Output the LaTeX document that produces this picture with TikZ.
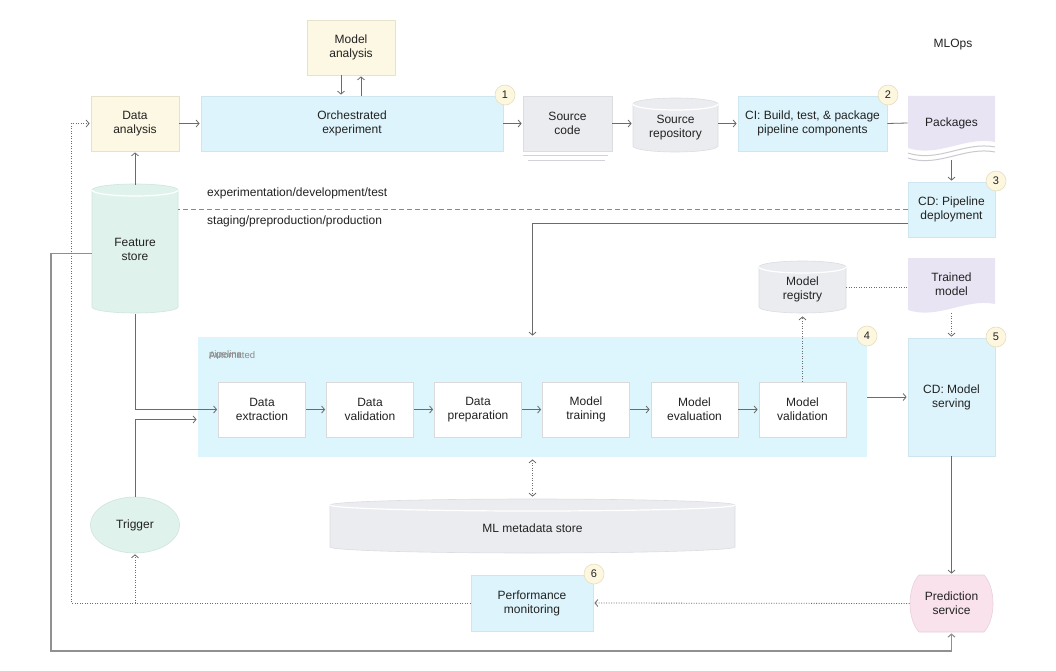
\documentclass[tikz,border=0pt]{standalone}
\usepackage{fontspec}
\setmainfont{Liberation Sans}
\usetikzlibrary{arrows.meta,shapes.geometric,calc}
\definecolor{txt}{HTML}{222222}
\definecolor{lc}{HTML}{6B6B6B}
\definecolor{yfill}{HTML}{FCF8E3}
\definecolor{yedge}{HTML}{E6E2CB}
\definecolor{bfill}{HTML}{DDF4FC}
\definecolor{bedge}{HTML}{CDE6F0}
\definecolor{gfill}{HTML}{EBECEF}
\definecolor{gedge}{HTML}{DCDDE1}
\definecolor{gline}{HTML}{D2D3D8}
\definecolor{pfill}{HTML}{E8E4F4}
\definecolor{mfill}{HTML}{DFF2EC}
\definecolor{medge}{HTML}{CFE5DD}
\definecolor{pkfill}{HTML}{F9E2EC}
\definecolor{pkedge}{HTML}{EAD0DC}
\definecolor{plfill}{HTML}{DDF5FD}
\definecolor{wedge}{HTML}{DADADA}
\definecolor{badgefill}{HTML}{FCF7DE}
\definecolor{badgeedge}{HTML}{E6DEBF}
\definecolor{labgray}{HTML}{8A8A8A}
\definecolor{wavecol}{HTML}{C9C9CF}
\newcommand\cylshape[6]{%
  \filldraw[fill=#5, draw=#6, line width=0.6pt] (#1-#2,#3+6) -- (#1-#2,#4-6)
    arc[start angle=180,end angle=360,x radius=#2pt,y radius=6pt] -- (#1+#2,#3+6)
    arc[start angle=0,end angle=180,x radius=#2pt,y radius=6pt] -- cycle;
  \draw[white, line width=1.2pt] (#1-#2,#3+6) arc[start angle=180,end angle=360,x radius=#2pt,y radius=6pt];}
\newcommand\docshape[5]{%
  \fill[#5] (#1,#3) -- (#2,#3) -- (#2,#4-6) .. controls (#2-30,#4-12) and (#1+30,#4+10) .. (#1,#4) -- cycle;}
\newcommand\docwave[3]{%
  \draw[wavecol, line width=1pt] (#2,#3-6) .. controls (#2-30,#3-12) and (#1+30,#3+10) .. (#1,#3);}
\begin{document}
\begin{tikzpicture}[x=1pt,y=-1pt,
  every node/.style={font=\fontsize{12}{14}\selectfont, text=txt},
  base/.style={rectangle, inner sep=0pt, align=center, line width=0.8pt},
  ybox/.style={base, fill=yfill, draw=yedge},
  bbox/.style={base, fill=bfill, draw=bedge},
  gbox/.style={base, fill=gfill, draw=gedge},
  wbox/.style={base, fill=white, draw=wedge, minimum width=87pt, minimum height=55pt},
  hold/.style={base, draw=none},
  badge/.style={circle, minimum size=20pt, inner sep=0pt, fill=badgefill, draw=badgeedge, line width=0.6pt, font=\fontsize{11}{13}\selectfont},
  conn/.style={draw=lc, line width=0.8pt},
  arr/.style={conn, -{Straight Barb[length=3pt,width=7pt]}, shorten >=1pt},
  dots/.style={dash pattern=on 1pt off 1.5pt},
  lab/.style={anchor=west, inner sep=0pt},
  pllab/.style={anchor=west, inner sep=0pt, text=labgray, font=\fontsize{9.5}{11}\selectfont},
]
\fill[white] (0,0) rectangle (1056,671);
\useasboundingbox (0,0) rectangle (1056,671);

% top row
\node[ybox, minimum width=88pt, minimum height=55pt] (ma) at (351,47.5) {Model\\analysis};
\node[ybox, minimum width=88pt, minimum height=55pt] (da) at (135,123.5) {Data\\analysis};
\node[bbox, minimum width=302pt, minimum height=55pt] (oe) at (352,123.5) {Orchestrated\\experiment};
\draw[gline, line width=1pt] (523,156) -- (608,156);
\draw[gline, line width=1pt] (528,161) -- (605,161);
\node[gbox, minimum width=89pt, minimum height=55pt] (sc) at (567.5,123.5) {Source\\code};
\cylshape{675.5}{42.5}{98}{152}{gfill}{gedge}
\node[hold, minimum width=85pt, minimum height=50pt] (sr) at (675.5,128) {Source\\repository};
\node[bbox, minimum width=149pt, minimum height=55pt] (ci) at (812.5,123.5) {CI: Build, test, \& package\\pipeline components};
\docshape{908}{995}{96}{148}{pfill}
\docwave{908}{995}{153}
\docwave{908}{995}{158}
\node[hold, minimum width=87pt, minimum height=54pt] (pk) at (951.5,123) {Packages};
\node[bbox, minimum width=87pt, minimum height=55pt] (cdp) at (951.5,209.5) {CD: Pipeline\\deployment};
\node (mlops) at (953,45) {MLOps};

% feature store and labels
\cylshape{135}{43}{184}{313}{mfill}{medge}
\node[hold, minimum width=86pt, minimum height=129pt] (fs) at (135,249.5) {Feature\\store};
\node[lab] (lab1) at (207,193) {experimentation/development/test};
\node[lab] (lab2) at (207,221) {staging/preproduction/production};

% pipeline
\node[base, fill=plfill, minimum width=669pt, minimum height=120pt] (pl) at (532.5,397) {};
\node[pllab] (plA) at (209,355) {pipeline};
\node[pllab] (plB) at (209,355) {Automated};
\node[wbox] (de) at (262,409.5) {Data\\extraction};
\node[wbox] (dv) at (370,409.5) {Data\\validation};
\node[wbox] (dp) at (478,409.5) {Data\\preparation};
\node[wbox] (mt) at (586,409.5) {Model\\training};
\node[wbox] (me) at (694.5,409.5) {Model\\evaluation};
\node[wbox] (mv) at (802.5,409.5) {Model\\validation};

% registry, trained model, serving
\cylshape{802.5}{43.5}{261}{313}{gfill}{gedge}
\node[hold, minimum width=87pt, minimum height=52pt] (mr) at (802.5,289) {Model\\registry};
\docshape{908}{995}{258}{310}{pfill}
\node[hold, minimum width=87pt, minimum height=52pt] (tm) at (951.5,284) {Trained\\model};
\node[bbox, minimum width=87pt, minimum height=118pt] (cdms) at (951.5,397) {CD: Model\\serving};

% bottom
\node[ellipse, fill=mfill, draw=medge, line width=0.6pt, minimum width=89pt, minimum height=56pt, inner sep=0pt] (tr) at (135,525) {Trigger};
\cylshape{532.5}{202.5}{499}{553}{gfill}{gedge}
\node[hold, minimum width=405pt, minimum height=58pt] (md) at (532.5,528) {ML metadata store};
\node[bbox, minimum width=122pt, minimum height=56pt] (pm) at (532,603) {Performance\\monitoring};
\filldraw[fill=pkfill, draw=pkedge, line width=0.6pt] (919,575) -- (984,575) .. controls (996,588) and (996,619) .. (984,632) -- (919,632) .. controls (907,619) and (907,588) .. (919,575) -- cycle;
\node[hold, minimum width=83pt, minimum height=57pt] (ps) at (951.5,603.5) {Prediction\\service};

% badges
\node[badge] (b1) at (505,95) {1};
\node[badge] (b2) at (888,95) {2};
\node[badge] (b3) at (996,181) {3};
\node[badge] (b4) at (867,336) {4};
\node[badge] (b5) at (996,337) {5};
\node[badge] (b6) at (594,574) {6};

% connectors
\draw[arr] (da.east) -- (oe.west);
\draw[arr] ([xshift=-10pt]ma.south) -- ([xshift=-10pt]ma.south |- oe.north);
\draw[arr] ([xshift=10pt]ma.south |- oe.north) -- ([xshift=10pt]ma.south);
\draw[arr] (oe.east) -- (sc.west);
\draw[arr] (sc.east) -- (sc.east -| sr.west);
\draw[arr] (sr.east |- ci.west) -- (ci.west);
\draw[conn] (ci.east) -- (pk.west);
\draw[arr] ([yshift=-10pt]pk.south) -- (cdp.north);
\draw[draw=labgray, line width=0.8pt, dash pattern=on 5pt off 3pt] (cdp.west) -- (cdp.west -| fs.east);
\draw[arr] ([yshift=-14pt]cdp.west) -| (md.north |- pl.north);
\draw[arr] (fs.north) -- (da.south);
\coordinate (lb) at (51,651);
\draw[arr, draw=lc!75, line width=1.1pt] ([yshift=-4pt]fs.west) -| (lb) -| (ps.south);
\draw[arr] (fs.south) |- (de.west);
\draw[arr] (tr.north) |- ([yshift=-10pt]de.west -| pl.west);
\draw[arr] (de) -- (dv);
\draw[arr] (dv) -- (dp);
\draw[arr] (dp) -- (mt);
\draw[arr] (mt) -- (me);
\draw[arr] (me) -- (mv);
\draw[arr] (pl.east |- cdms.west) -- (cdms.west);
\draw[arr, dots] (mv.north) -- (mr.south);
\draw[conn, dots] ([yshift=2pt]mr.east) -- ([yshift=2pt]mr.east -| tm.west);
\draw[arr, dots] ([yshift=-3pt]tm.south) -- (cdms.north);
\draw[arr] (cdms.south) -- (ps.north);
\draw[arr, dots] (ps.west) -- (pm.east);
\draw[arr, dots] (pm.west) -| ([xshift=-19pt]da.west) -- (da.west);
\draw[arr, dots] (tr.south |- pm.west) -- (tr.south);
\draw[conn, dots, {Straight Barb[length=3pt,width=7pt]}-{Straight Barb[length=3pt,width=7pt]}, shorten <=2pt, shorten >=2pt] (pl.south -| md.north) -- (md.north);
\end{tikzpicture}
\end{document}
